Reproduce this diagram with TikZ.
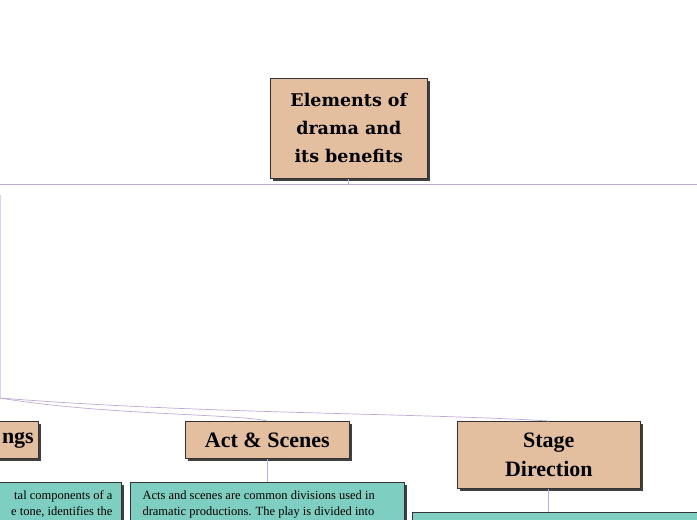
\documentclass[tikz,border=0pt]{standalone}
\usepackage{fontspec}
\setmainfont{DejaVu Serif}
\newfontfamily\headfont{Liberation Serif}
\newfontfamily\bodyfont{Liberation Serif}
\begin{document}
\begin{tikzpicture}[x=1pt,y=-1pt,
  tan/.style={fill=tanc,draw=black!80,line width=0.6pt},
  teal/.style={fill=tealc,draw=black!80,line width=0.6pt},
  conn/.style={draw=linec,line width=0.7pt},
  heading/.style={font=\headfont\bfseries\fontsize{22}{29}\selectfont,align=center},
  body/.style={font=\bodyfont\fontsize{12.5}{16}\selectfont,align=left,anchor=north west}]
\definecolor{tanc}{HTML}{E3BFA0}
\definecolor{tealc}{HTML}{7ECFC2}
\definecolor{linec}{HTML}{C0A8D8}
\useasboundingbox (0,0) rectangle (697,520);
\clip (0,0) rectangle (697,520);
% shadows
\foreach \a/\b/\c/\d in {270/78/427/178, -20/421/38/458, 185/421/349/458, 457/421/640/488, -200/482/121/530, 130/482/404/530, 412/512/697/530}
  \fill[black!75] (\a+2.5,\b+2.5) rectangle (\c+2.5,\d+2.5);
% connectors
\coordinate (hl) at (0,184);
\coordinate (hr) at (697,184);
\coordinate (vl) at (0,195);
\coordinate (vb) at (0,398);
\draw[conn] (hl) -- (hr);
\draw[conn,draw=linec!50] (vl) -- (vb);
% boxes
\node[tan,minimum width=157pt,minimum height=100pt,inner sep=0pt,anchor=north west,font=\bfseries\fontsize{17.5}{28}\selectfont,align=center] (title) at (270,78) {Elements of\\drama and\\its benefits};
\draw[conn] (title.south) -- (title.south|-hl);
\node[tan,minimum width=58pt,minimum height=37pt,inner sep=0pt,anchor=north west,heading] (set) at (-20,421) {};
\node[heading,anchor=east,inner sep=0pt] at (34,440) {ngs};
\node[tan,minimum width=164pt,minimum height=37pt,inner sep=0pt,anchor=north west,heading] (act) at (185,421) {Act \& Scenes};
\node[tan,minimum width=183pt,minimum height=67pt,inner sep=0pt,anchor=north west,heading] (stage) at (457,421) {Stage\\Direction};
\draw[conn] (vb) .. controls (100,415) and (240,414) .. (act.north);
\draw[conn] (vb) .. controls (200,414) and (420,413) .. (stage.north);
\node[teal,minimum width=321pt,minimum height=48pt,inner sep=0pt,anchor=north west] (t1) at (-200,482) {};
\node[body,anchor=north east,align=right] at (116,487) {tal components of a\\e tone, identifies the};
\node[teal,minimum width=274pt,minimum height=48pt,inner sep=0pt,anchor=north west] (t2) at (130,482) {};
\node[body] at (139,487) {Acts and scenes are common divisions used in\\dramatic productions. The play is divided into};
\node[teal,minimum width=300pt,minimum height=18pt,inner sep=0pt,anchor=north west] (t3) at (412,512) {};
\draw[conn] (act.south) -- (t2.north);
\draw[conn] (stage.south) -- (stage.south|-t3.north);
\end{tikzpicture}
\end{document}
